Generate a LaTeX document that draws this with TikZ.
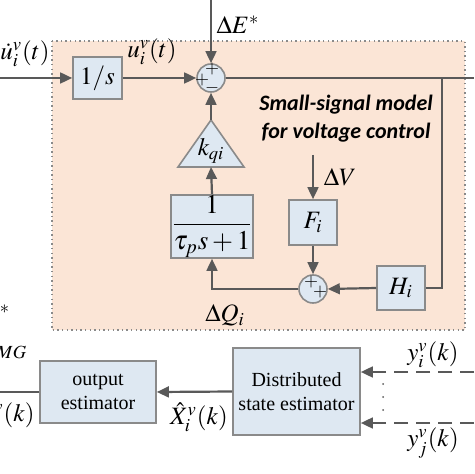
\documentclass[tikz,border=0pt]{standalone}
\usepackage{mathptmx}
\usepackage{fontspec}
\setmainfont{Liberation Serif}
\newfontfamily\califont{Carlito}
\usetikzlibrary{arrows.meta}
\definecolor{peach}{HTML}{FBE5D6}
\definecolor{boxblue}{HTML}{DEE8F2}
\definecolor{boxline}{HTML}{8A8A8A}
\definecolor{wirec}{HTML}{595959}
\newcommand{\mfs}{\fontsize{12.5pt}{14pt}\selectfont}
\begin{document}
\begin{tikzpicture}[x=0.5pt,y=-0.5pt,
  blk/.style={draw=boxline, fill=boxblue, line width=0.8pt, inner sep=0pt, font=\mfs},
  sumc/.style={circle, draw=boxline, fill=boxblue, line width=0.8pt, minimum size=14pt, inner sep=0pt},
  wire/.style={draw=wirec, line width=1.1pt},
  arr/.style={wire, -{Triangle[length=6pt,width=5.4pt]}},
  darr/.style={arr, dash pattern=on 7pt off 4pt},
  lbl/.style={inner sep=0pt, font=\mfs},
  sgn/.style={inner sep=0pt, text=black, font=\fontsize{9pt}{9pt}\selectfont}
]
\useasboundingbox (0,0) rectangle (474,474);
% background region
\fill[peach] (52,41) rectangle (465,330);
\draw[boxline, line width=0.8pt, dash pattern=on 0.7pt off 1.6pt] (52,41) rectangle (465,330);

% blocks
\node[blk, minimum width=24.5pt, minimum height=21pt] (inv) at (97.5,78) {$1/s$};
\node[sumc] (s1) at (211,78) {};
\node[sgn] at (212,69) {$+$};
\node[sgn] at (202,80) {$+$};
\node[sgn] at (212,88) {$-$};
\node[blk, minimum width=35pt, minimum height=31.5pt, font=\fontsize{13.5pt}{15pt}\selectfont] (fb) at (212,226.5) {$\displaystyle\frac{1}{\tau_p s+1}$};
\node[blk, minimum width=24pt, minimum height=22.5pt] (Fi) at (313,222.5) {$F_i$};
\node[sumc] (s2) at (313,289) {};
\node[sgn] at (311,282) {$+$};
\node[sgn] at (320,292) {$+$};
\node[blk, minimum width=24pt, minimum height=22pt] (Hi) at (401,288) {$H_i$};
\node[blk, minimum width=58pt, minimum height=31pt, align=center, font=\fontsize{10pt}{12pt}\selectfont] (oe) at (98,392) {output\\estimator};
\node[blk, minimum width=63.5pt, minimum height=43.5pt, align=center, font=\fontsize{10pt}{12pt}\selectfont] (dse) at (296.5,391.5) {Distributed\\state estimator};

% gain triangle
\coordinate (tapex) at (211,120);
\coordinate (tbase) at (211,167);
\draw[draw=boxline, fill=boxblue, line width=0.8pt] (tapex) -- (244,167) -- (178,167) -- cycle;
\node[lbl] (kq) at (211,151) {$k_{qi}$};

% free ends
\coordinate (inL) at (0,78);
\coordinate (dEtop) at (211,0);
\coordinate (outR) at (474,78);
\coordinate (br) at (442,78);
\coordinate (brd) at (442,288);
\coordinate (dVtop) at (313,155);
\coordinate (qc) at (212,289);
\coordinate (oL) at (0,392);
\coordinate (yiR) at (474,372);
\coordinate (yjR) at (474,423);

% connectors
\draw[arr] (inL) -- (inv.west);
\draw[arr] (inv.east) -- (s1.west);
\draw[arr] (dEtop) -- (s1.north);
\draw[wire] (s1.east) -- (outR);
\draw[wire] (br) -- (brd) -- (Hi.east);
\draw[arr] (Hi.west) -- (s2.east);
\draw[arr] (dVtop) -- (Fi.north);
\draw[arr] (Fi.south) -- (s2.north);
\draw[arr] (s2.west) -- (qc) -- (fb.south);
\draw[arr] (fb.north) -- (tbase);
\draw[arr] (tapex) -- (s1.south);
\draw[arr] (dse.west) -- (oe.east);
\draw[wire] (oe.west) -- (oL);
\draw[darr] (yiR) -- (dse.east |- yiR);
\draw[darr] (yjR) -- (dse.east |- yjR);

% labels
\node[lbl] (l1) at (25,54) {$\dot{u}_i^{v}(t)$};
\node[lbl] (l2) at (152,52) {$u_i^{v}(t)$};
\node[lbl] (l3) at (238,25) {$\Delta E^{*}$};
\node[inner sep=0pt, align=center, font=\califont\bfseries\itshape\fontsize{11pt}{14pt}\selectfont] (title) at (346,119) {Small-signal model\\for voltage control};
\node[lbl] (l4) at (340,177) {$\Delta V$};
\node[lbl] (l5) at (225,315) {$\Delta Q_i$};
\node[lbl] (l6) at (199,417) {$\hat{X}_i^{v}(k)$};
\node[lbl] (l7) at (433,355) {$y_i^{v}(k)$};
\node[lbl] (l8) at (433,443) {$y_j^{v}(k)$};
\node[lbl, anchor=east] (l9) at (35,415) {$\hat{y}^{v}(k)$};
\node[lbl] (l10) at (5,314) {$^{*}$};
\node[lbl] (l11) at (12,352) {$_{MG}$};
\foreach \yy in {384,397,410} \fill[wirec] (383,\yy) circle (0.5pt);
\end{tikzpicture}
\end{document}
